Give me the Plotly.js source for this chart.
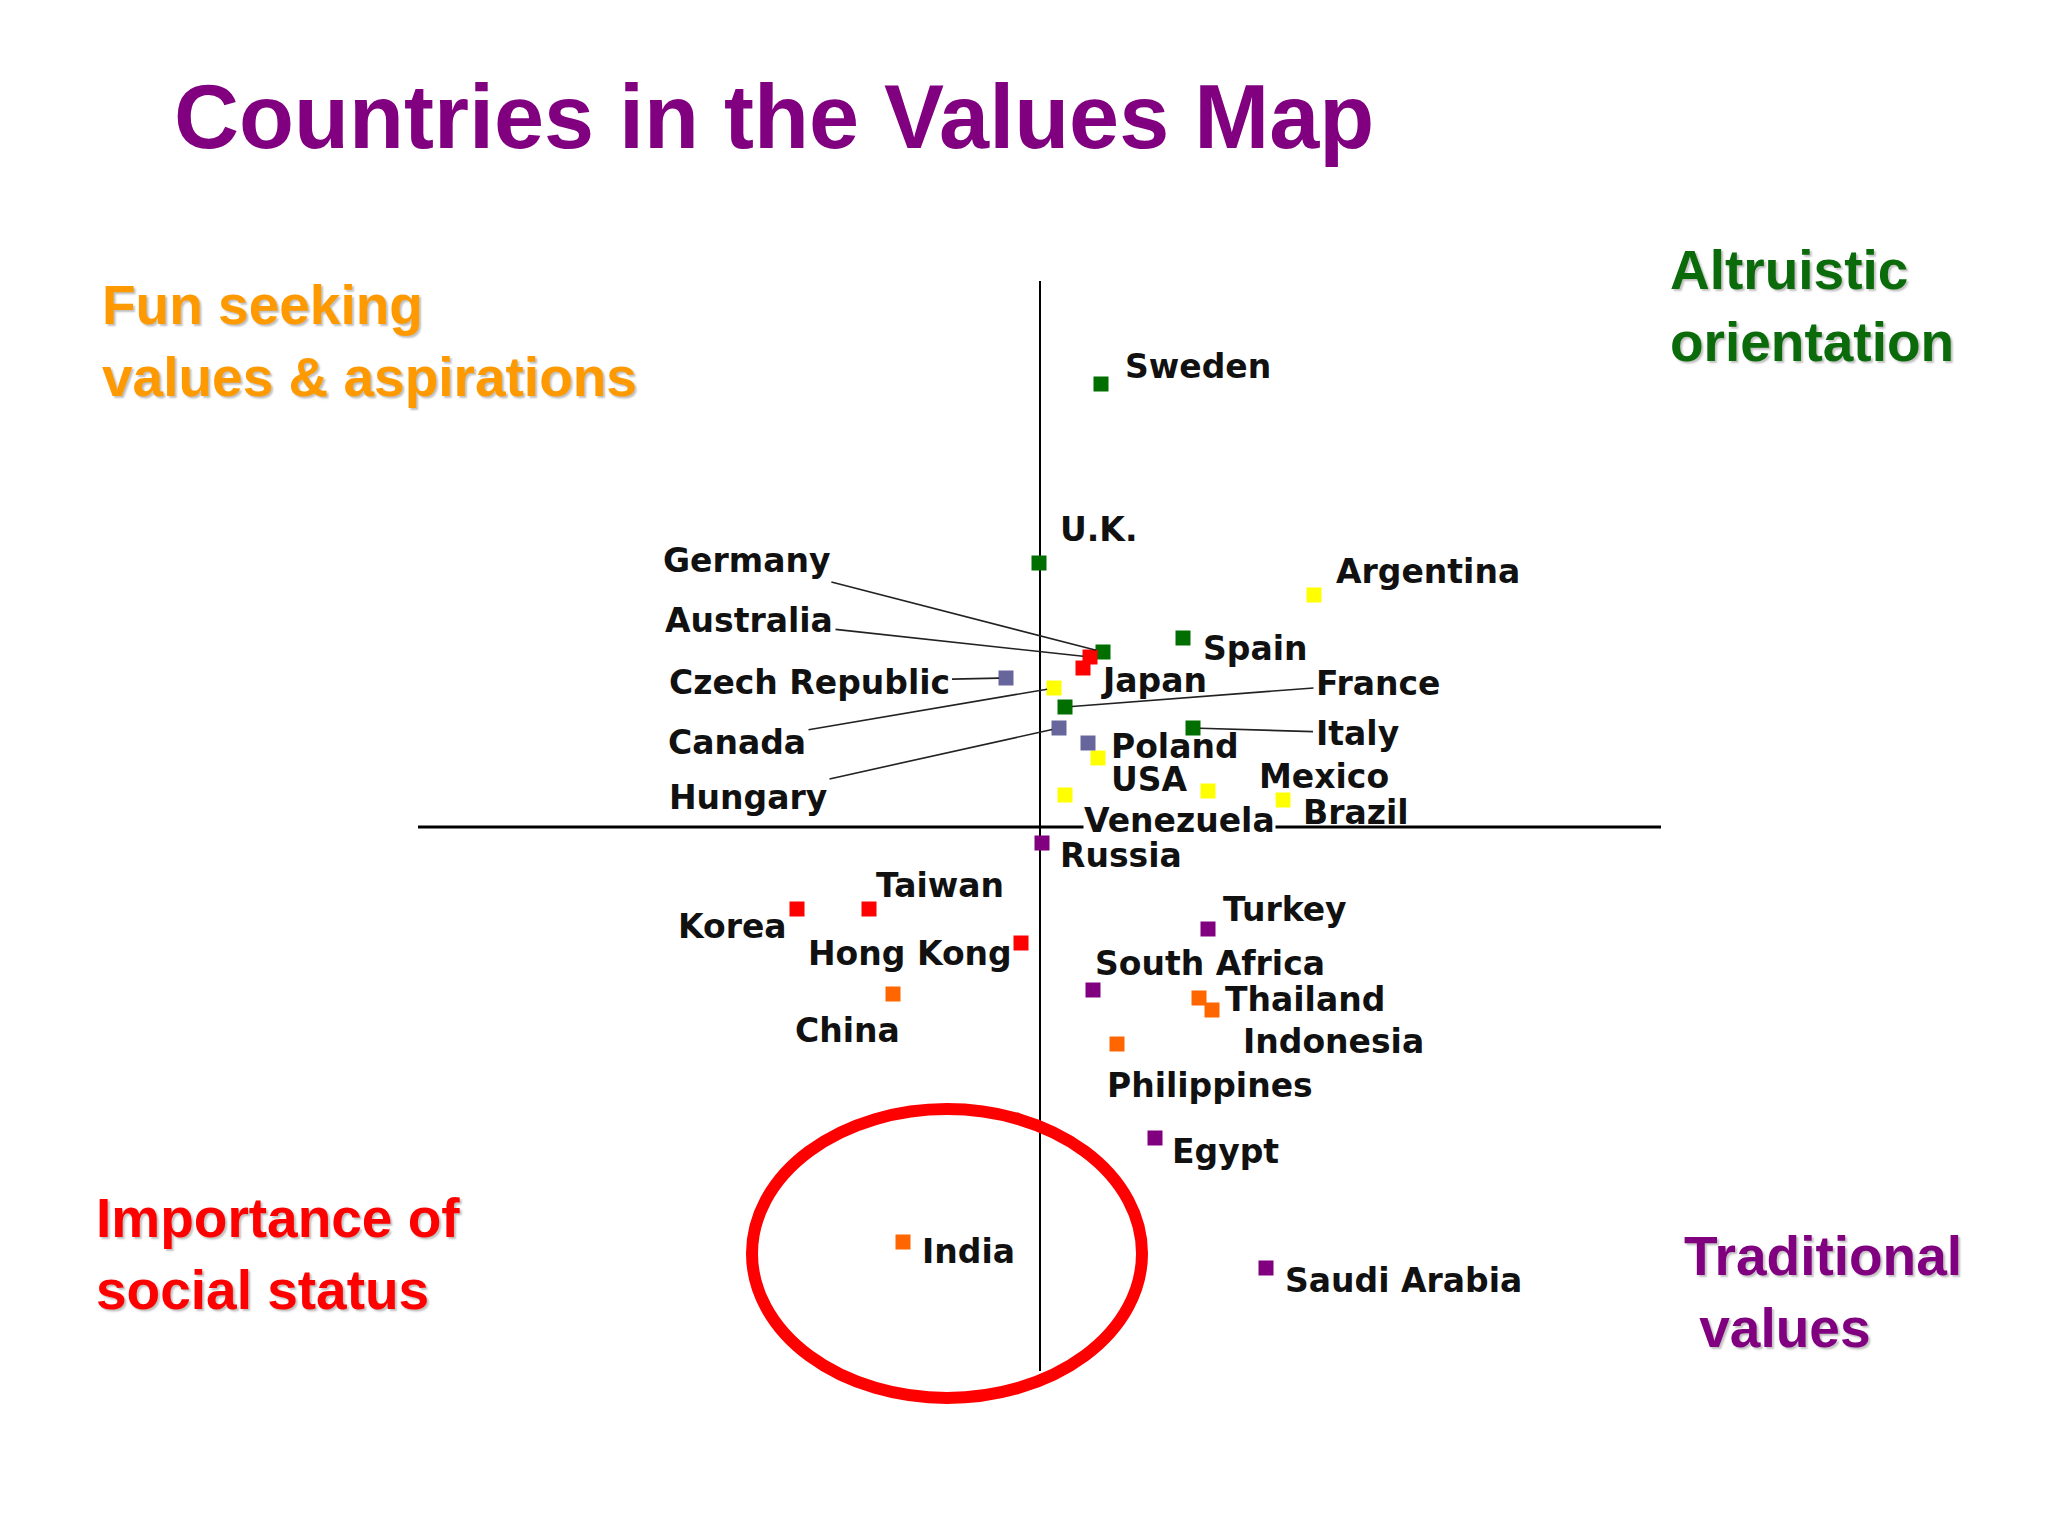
<!DOCTYPE html>
<html>
<head>
<meta charset="utf-8">
<script src="https://cdn.plot.ly/plotly-3.0.1.min.js"></script>
<style>html,body{margin:0;padding:0;background:#fff;}#chart{width:2048px;height:1536px;}</style>
</head>
<body>
<div id="chart"></div>
<script>
// ---- data (map coordinates; origin = axis crossing) ----
const countries = ["Sweden","U.K.","Germany","Australia","Japan","Czech Republic","Canada","France","Hungary",
  "Spain","Argentina","Italy","Poland","USA","Mexico","Brazil","Venezuela","Russia","Korea","Taiwan",
  "Hong Kong","China","Turkey","South Africa","Thailand","Indonesia","Philippines","Egypt","India","Saudi Arabia"];
const valueX = [0.61,-0.01,0.63,0.50,0.43,-0.34,0.14,0.25,0.19,
  1.43,2.74,1.53,0.48,0.58,1.68,2.43,0.25,0.02,-2.43,-1.71,
  -0.19,-1.47,1.68,0.53,1.59,1.72,0.77,1.15,-1.37,2.26];
const valueY = [4.43,2.64,1.75,1.70,1.59,1.49,1.39,1.20,0.99,
  1.89,2.32,0.99,0.84,0.69,0.36,0.27,0.32,-0.16,-0.82,-0.82,
  -1.16,-1.67,-1.02,-1.63,-1.71,-1.83,-2.17,-3.11,-4.15,-4.41];
const cluster = ["green","green","green","red","red","slate","yellow","green","slate",
  "green","yellow","green","slate","yellow","yellow","yellow","yellow","purple","red","red",
  "red","orange","purple","purple","orange","orange","orange","purple","orange","purple"];
const quadrantLabels = ["Fun seeking<br>values & aspirations","Altruistic<br>orientation",
  "Importance of<br>social status","Traditional<br>\u00a0values"];
const titleText = "Countries in the Values Map";

// ---- styles / layout ----
const clusterColors = {green:"#006f00",red:"#ff0000",yellow:"#ffff00",slate:"#66669c",purple:"#800080",orange:"#ff6600"};
const clusterOrder = ["green","red","yellow","slate","purple","orange"];

// label placement: [mode, dx, dy] -- left/right: shift of the text edge from the marker (px, dy up),
// arrow: tail offset of a leader line (px, ay down)
const labelPlace = {
  "Sweden":["left",23,18],"U.K.":["left",20,34],"Argentina":["left",21,24],"Spain":["left",19,-10],
  "Japan":["left",17,-12],"Poland":["left",22,-3],"USA":["left",12,-21],"Mexico":["left",50,15],
  "Brazil":["left",19,-12],"Venezuela":["left",18,-25],"Russia":["left",17,-12],"Taiwan":["left",6,24],
  "Korea":["right",-9,-17],"Hong Kong":["right",-8,-10],"Turkey":["left",14,20],"South Africa":["left",1,27],
  "Thailand":["left",25,-1],"Indonesia":["left",30,-31],"China":["left",-99,-36],"Philippines":["left",-11,-41],
  "Egypt":["left",16,-13],"India":["left",18,-9],"Saudi Arabia":["left",18,-12],
  "Germany":["arrow",-357,-92],"Australia":["arrow",-341,-37],"Czech Republic":["arrow",-197,4],
  "Canada":["arrow",-317,54],"Hungary":["arrow",-311,69],"France":["arrow",313,-24],"Italy":["arrow",164,5]
};

const labelFont = {family:"DejaVu Sans", size:33, color:"#111111", weight:"bold"};

const traces = clusterOrder.map(c => {
  const idx = cluster.map((g,i)=>g===c?i:-1).filter(i=>i>=0);
  return {
    type:"scatter", mode:"markers", name:c,
    x: idx.map(i=>valueX[i]), y: idx.map(i=>valueY[i]), text: idx.map(i=>countries[i]),
    marker:{symbol:"square", size:15, color:clusterColors[c], line:{width:0}},
    hoverinfo:"text", showlegend:false
  };
});

const annotations = [];
countries.forEach((name,i) => {
  const p = labelPlace[name];
  if (p[0] === "arrow") {
    annotations.push({x:valueX[i], y:valueY[i], xref:"x", yref:"y", text:name, showarrow:true,
      ax:p[1], ay:p[2], arrowhead:0, arrowwidth:1.6, arrowcolor:"#222222", standoff:7,
      font:labelFont, borderpad:2});
  } else {
    annotations.push({x:valueX[i], y:valueY[i], xref:"x", yref:"y", text:name, showarrow:false,
      xanchor:p[0], yanchor:"middle", xshift:p[1], yshift:p[2], font:labelFont,
      bgcolor: name==="Venezuela" ? "#ffffff" : "rgba(0,0,0,0)", borderpad:0});
  }
});

const quadFont = (col) => ({family:"Liberation Sans", size:55, color:col, weight:"bold",
  shadow:"2px 2px 2px rgba(150,150,150,0.6)"});
const quadPos = [
  {x:100/2048, y:1-341/1536, col:"#ff9900"},
  {x:1668/2048, y:1-306/1536, col:"#0b6b0b"},
  {x:94/2048, y:1-1254/1536, col:"#ff0000"},
  {x:1682/2048, y:1-1292/1536, col:"#800080"}
];
quadrantLabels.forEach((t,k)=>{
  annotations.push({xref:"paper", yref:"paper", x:quadPos[k].x, y:quadPos[k].y, xanchor:"left",
    yanchor:"middle", align:"left", text:t, showarrow:false, font:quadFont(quadPos[k].col)});
});

const layout = {
  width:2048, height:1536,
  margin:{l:0,r:0,t:0,b:0},
  paper_bgcolor:"#ffffff", plot_bgcolor:"#ffffff",
  title:{text:titleText, font:{family:"Liberation Sans", size:90, color:"#800080", weight:"bold"},
    x:174/2048, xanchor:"left", xref:"container", y:1-116/1536, yanchor:"middle", yref:"container"},
  xaxis:{range:[-10.40,10.08], visible:false, fixedrange:true},
  yaxis:{range:[-7.09,8.27], visible:false, fixedrange:true},
  shapes:[
    {type:"line", xref:"x", yref:"y", x0:-6.22, x1:6.21, y0:0, y1:0, line:{color:"#000000", width:3}, layer:"below"},
    {type:"line", xref:"x", yref:"y", x0:0, x1:0, y0:5.46, y1:-5.44, line:{color:"#000000", width:2}, layer:"below"},
    {type:"circle", xref:"x", yref:"y", x0:-2.88, x1:1.02, y0:-2.82, y1:-5.71, line:{color:"#ff0000", width:12}}
  ],
  annotations: annotations,
  showlegend:false
};

Plotly.newPlot("chart", traces, layout, {displayModeBar:false, staticPlot:true});
</script>
</body>
</html>
